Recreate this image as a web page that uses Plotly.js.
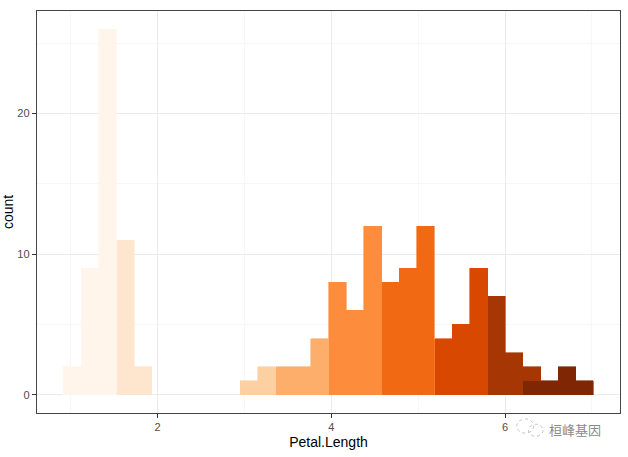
<!DOCTYPE html>
<html>
<head>
<meta charset="utf-8">
<script src="https://cdn.plot.ly/plotly-3.0.1.min.js"></script>
<style>html,body{margin:0;padding:0;background:#fff;}#chart{width:628px;height:457px;}</style>
</head>
<body>
<div id="chart"></div>
<script>
// Histogram of Petal.Length, 30 bins (bin width ~0.2034)
const binWidth = 0.20345;
const binCenter = [1.017, 1.221, 1.424, 1.628, 1.831, 2.034, 2.238, 2.441, 2.645, 2.848,
                   3.052, 3.255, 3.459, 3.662, 3.866, 4.069, 4.273, 4.476, 4.679, 4.883,
                   5.086, 5.290, 5.493, 5.697, 5.900, 6.104, 6.307, 6.510, 6.714, 6.917];
// stacked segments: bin index, count, fill group
const segBin   = [0, 1, 2,  3, 4,  10, 11,  12, 13, 14,  15, 16, 17,  18, 19, 20,  21, 22, 23,  24, 25, 26,  26, 27, 28, 29];
const segCount = [2, 9, 26, 11, 2, 1, 2,    2, 2, 4,     8, 6, 12,    8, 9, 12,    4, 5, 9,     7, 3, 1,     1, 1, 2, 1];
const segGroup = [1, 1, 1,  2, 2,  3, 3,    4, 4, 4,     5, 5, 5,     6, 6, 6,     7, 7, 7,     8, 8, 8,     9, 9, 9, 9];
const groupColors = ['#FFF5EB', '#FEE6CE', '#FDD0A2', '#FDAE6B', '#FD8D3C', '#F16913', '#D94801', '#A63603', '#7F2704'];
const xTicks = [2, 4, 6];
const yTicks = [0, 10, 20];

const traces = [];
// ggplot stacks the first level on top, so add the last group first
for (let g = groupColors.length; g >= 1; g--) {
  const xs = [], ys = [];
  for (let i = 0; i < segBin.length; i++) {
    if (segGroup[i] === g) { xs.push(binCenter[segBin[i]]); ys.push(segCount[i]); }
  }
  traces.push({
    type: 'bar', x: xs, y: ys, width: binWidth,
    marker: {color: groupColors[g - 1], line: {width: 0.6, color: groupColors[g - 1]}},
    showlegend: false, hoverinfo: 'x+y'
  });
}

const fontFam = 'Arial, "Liberation Sans", sans-serif';
const layout = {
  width: 628, height: 457,
  margin: {l: 37, r: 8, t: 11, b: 44, pad: 0},
  paper_bgcolor: '#fff', plot_bgcolor: '#fff',
  barmode: 'stack', bargap: 0,
  showlegend: false,
  font: {family: fontFam},
  xaxis: {
    range: [0.6103, 7.3242],
    tickvals: xTicks, ticktext: xTicks.map(String),
    ticks: 'outside', ticklen: 4, tickwidth: 1, tickcolor: '#333333',
    tickfont: {size: 11, color: '#4D4D4D', family: fontFam},
    showgrid: true, gridcolor: '#EBEBEB', gridwidth: 1,
    minor: {tickvals: [1, 3, 5, 7], showgrid: true, gridcolor: '#F2F2F2', gridwidth: 0.6, ticks: ''},
    showline: true, mirror: true, linecolor: '#444444', linewidth: 1.2,
    zeroline: false,
    title: {text: 'Petal.Length', font: {size: 14, color: '#000', family: fontFam}, standoff: 4}
  },
  yaxis: {
    range: [-1.3, 27.3],
    tickvals: yTicks, ticktext: yTicks.map(String),
    ticks: 'outside', ticklen: 4, tickwidth: 1, tickcolor: '#333333',
    tickfont: {size: 11, color: '#4D4D4D', family: fontFam},
    showgrid: true, gridcolor: '#EBEBEB', gridwidth: 1,
    minor: {tickvals: [5, 15, 25], showgrid: true, gridcolor: '#F2F2F2', gridwidth: 0.6, ticks: ''},
    showline: true, mirror: true, linecolor: '#444444', linewidth: 1.2,
    zeroline: false,
    title: {text: 'count', font: {size: 14, color: '#000', family: fontFam}, standoff: 6}
  },
  annotations: [{
    text: '桓峰基因', xref: 'paper', yref: 'paper',
    x: 0.923, y: -0.042, xanchor: 'center', yanchor: 'middle', showarrow: false,
    font: {size: 13, color: '#8A8A8A', family: '"Noto Sans CJK SC", sans-serif'}
  }],
  shapes: [
    {type: 'circle', xref: 'paper', yref: 'paper', x0: 0.823, x1: 0.852, y0: -0.05, y1: -0.015,
     line: {color: '#C0C0C0', width: 1, dash: 'dot'}},
    {type: 'circle', xref: 'paper', yref: 'paper', x0: 0.843, x1: 0.868, y0: -0.058, y1: -0.028,
     line: {color: '#C0C0C0', width: 1, dash: 'dot'}}
  ]
};

Plotly.newPlot('chart', traces, layout, {staticPlot: true, displayModeBar: false});
</script>
</body>
</html>
